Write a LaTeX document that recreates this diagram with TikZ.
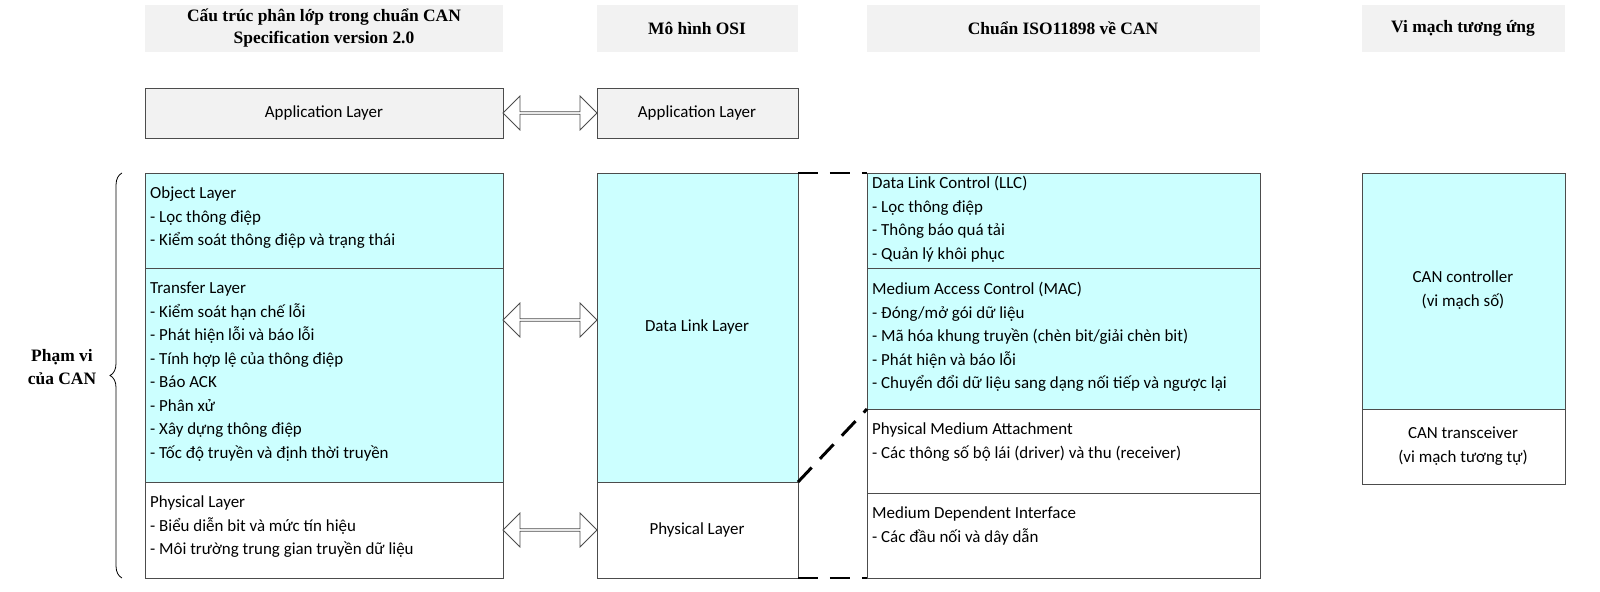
\documentclass[tikz,border=0pt]{standalone}
\usepackage{fontspec}
\setmainfont{Carlito}
\newfontfamily\hdr{Liberation Serif}
\usetikzlibrary{shapes.arrows,decorations.pathreplacing}
\definecolor{cy}{HTML}{CCFFFF}
\definecolor{gr}{HTML}{F2F2F2}
\begin{document}
\begin{tikzpicture}[x=1bp,y=-1bp,
 box/.style={draw=black!70,line width=0.8pt},
 txt/.style={anchor=north west,align=left,inner sep=0pt,font=\fontsize{17}{23.6}\selectfont},
 ctxt/.style={align=center,inner sep=0pt,font=\fontsize{17}{23.6}\selectfont},
 hd/.style={align=center,font=\hdr\bfseries\fontsize{17.5}{22}\selectfont},
 dl/.style={line width=3pt,dash pattern=on 20pt off 12pt},
 da/.style={double arrow,draw=black!70,fill=white,line width=0.8pt,minimum height=94bp,minimum width=34bp,double arrow head extend=5pt,inner sep=0pt}]
\useasboundingbox (0,0) rectangle (1600,592);
% headers
\fill[gr] (145,5) rectangle (503,52); \node[hd] (h1) at (324,28) {Cấu trúc phân lớp trong chuẩn CAN\\Specification version 2.0};
\fill[gr] (597,5) rectangle (798,52); \node[hd] (h2) at (697,28) {Mô hình OSI};
\fill[gr] (867,5) rectangle (1260,52); \node[hd] (h3) at (1063,28) {Chuẩn ISO11898 về CAN};
\fill[gr] (1362,5) rectangle (1565,52); \node[hd] (h4) at (1463,28) {Vi mạch tương ứng};
% application
\draw[box,fill=gr] (145,88) rectangle (503,138); \node[ctxt] (a1) at (324,113) {Application Layer};
\draw[box,fill=gr] (597,88) rectangle (798,138); \node[ctxt] (a2) at (697,113) {Application Layer};
% left
\draw[box,fill=cy] (145,173) rectangle (503,268);
\draw[box,fill=cy] (145,268) rectangle (503,482);
\draw[box,fill=white] (145,482) rectangle (503,578);
\node[txt] (ol) at (150,187) {Object Layer\\- Lọc thông điệp\\- Kiểm soát thông điệp và trạng thái};
\node[txt] (tl) at (150,282) {Transfer Layer\\- Kiểm soát hạn chế lỗi\\- Phát hiện lỗi và báo lỗi\\- Tính hợp lệ của thông điệp\\- Báo ACK\\- Phân xử\\- Xây dựng thông điệp\\- Tốc độ truyền và định thời truyền};
\node[txt] (pl) at (150,496) {Physical Layer\\- Biểu diễn bit và mức tín hiệu\\- Môi trường trung gian truyền dữ liệu};
% OSI
\draw[box,fill=cy] (597,173) rectangle (798,482);
\draw[box,fill=white] (597,482) rectangle (798,578);
\node[ctxt] (dll) at (697,327) {Data Link Layer};
\node[ctxt] (phl) at (697,530) {Physical Layer};
% ISO
\draw[box,fill=cy] (867,173) rectangle (1260,268);
\draw[box,fill=cy] (867,268) rectangle (1260,409);
\draw[box,fill=white] (867,409) rectangle (1260,493);
\draw[box,fill=white] (867,493) rectangle (1260,578);
\node[txt] (llc) at (872,176) {Data Link Control (LLC)\\- Lọc thông điệp\\- Thông báo quá tải\\- Quản lý khôi phục};
\node[txt] (mac) at (872,282) {Medium Access Control (MAC)\\- Đóng/mở gói dữ liệu\\- Mã hóa khung truyền (chèn bit/giải chèn bit)\\- Phát hiện và báo lỗi\\- Chuyển đổi dữ liệu sang dạng nối tiếp và ngược lại};
\node[txt] (pma) at (872,423) {Physical Medium Attachment\\- Các thông số bộ lái (driver) và thu (receiver)};
\node[txt] (mdi) at (872,507) {Medium Dependent Interface\\- Các đầu nối và dây dẫn};
% chips
\draw[box,fill=cy] (1362,173) rectangle (1565,409);
\draw[box,fill=white] (1362,409) rectangle (1565,484);
\node[ctxt] (cc) at (1463,290) {CAN controller\\(vi mạch số)};
\node[ctxt] (ct) at (1463,446) {CAN transceiver\\(vi mạch tương tự)};
% arrows
\node[da] (d1) at (550,113) {};
\node[da] (d2) at (550,320) {};
\node[da] (d3) at (550,530) {};
% dashed
\coordinate (p1) at (798,173); \coordinate (q1) at (867,173);
\coordinate (p2) at (798,482); \coordinate (q2) at (867,409);
\coordinate (p3) at (798,578); \coordinate (q3) at (867,578);
\draw[dl] (p1) -- (q1);
\draw[dl] (p2) -- (q2);
\draw[dl] (p3) -- (q3);
% brace
\coordinate (b1) at (122,578); \coordinate (b2) at (122,173);
\draw[line width=0.8pt,decorate,decoration={brace,amplitude=12pt}] (b1) -- (b2);
\node[align=center,font=\hdr\bfseries\fontsize{17.5}{23}\selectfont] (sc) at (62,367) {Phạm vi\\của CAN};
\end{tikzpicture}
\end{document}
